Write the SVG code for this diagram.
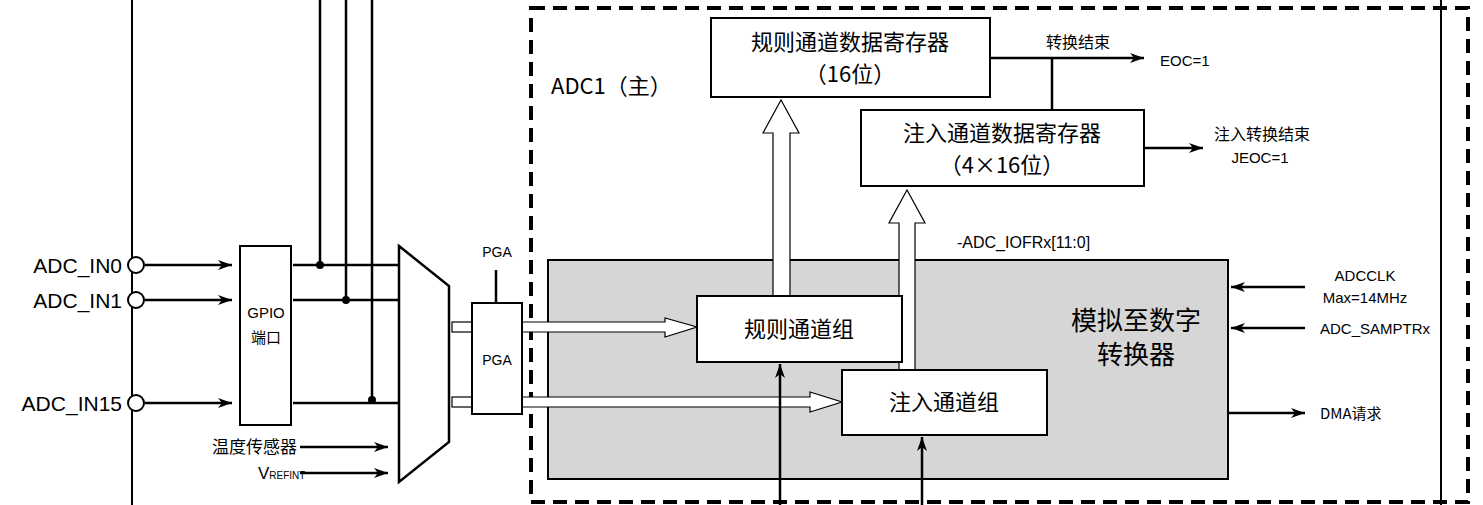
<svg xmlns="http://www.w3.org/2000/svg" width="1483" height="505" viewBox="0 0 1483 505">
<defs>
<marker id="a" markerWidth="10" markerHeight="8" refX="10" refY="4" orient="auto" markerUnits="userSpaceOnUse"><path d="M0,0 L10,4 L0,8 L3,4 Z" fill="#000"/></marker>
<marker id="b" markerWidth="14" markerHeight="10" refX="14" refY="5" orient="auto" markerUnits="userSpaceOnUse"><path d="M0,0 L14,5 L0,10 L4,5 Z" fill="#000"/></marker>
</defs>
<style>
text{font-family:"Liberation Sans","Noto Sans CJK SC",sans-serif;fill:#000}
.bx{fill:#fff;stroke:#000;stroke-width:2}
.ln{stroke:#000;stroke-width:2.5;fill:none}
.ha{fill:#fff;stroke:#000;stroke-width:1.2}
.cn{font-family:"Noto Sans CJK SC",sans-serif}
</style>
<rect x="531" y="8" width="937" height="494" fill="none" stroke="#000" stroke-width="4" stroke-dasharray="14,8"/>
<line x1="1441" y1="0" x2="1441" y2="505" stroke="#000" stroke-width="2"/>
<line x1="132" y1="0" x2="132" y2="505" stroke="#000" stroke-width="2"/>
<text x="551" y="94" font-size="22" class="cn">ADC1（主）</text>
<g id="gray"><rect x="548" y="260" width="680" height="219" fill="#d6d6d6" stroke="#000" stroke-width="2"/>
<text x="1136" y="330" font-size="26" text-anchor="middle" class="cn">模拟至数字</text>
<text x="1136" y="364" font-size="26" text-anchor="middle" class="cn">转换器</text></g>
<g id="conn">
<line class="ln" x1="145" y1="265" x2="232" y2="265" marker-end="url(#b)"/>
<line class="ln" x1="145" y1="300" x2="232" y2="300" marker-end="url(#b)"/>
<line class="ln" x1="145" y1="403" x2="232" y2="403" marker-end="url(#b)"/>
<line class="ln" x1="293" y1="265" x2="399" y2="265"/>
<line class="ln" x1="293" y1="300" x2="399" y2="300"/>
<line class="ln" x1="293" y1="403" x2="399" y2="403"/>
<line class="ln" x1="320" y1="0" x2="320" y2="265"/>
<line class="ln" x1="346" y1="0" x2="346" y2="300"/>
<line class="ln" x1="372" y1="0" x2="372" y2="403"/>
<circle cx="320" cy="265" r="4"/><circle cx="346" cy="300" r="4"/><circle cx="372" cy="400" r="4"/>
<line class="ln" x1="300" y1="447" x2="388" y2="447" marker-end="url(#b)"/>
<line class="ln" x1="300" y1="473" x2="388" y2="473" marker-end="url(#b)"/>
<line class="ln" x1="496" y1="270" x2="496" y2="303" stroke-width="2"/>
<rect x="452" y="322" width="20" height="10" class="ha"/><rect x="452" y="397" width="20" height="10" class="ha"/>
<path class="ha" d="M522,322 H665 V318 L697,327 L665,337 V332 H522 Z"/>
<path class="ha" d="M522,397 H810 V392 L842,402 L810,412 V407 H522 Z"/>
<path class="ha" d="M773,296 V133 H763 L781,100 L799,133 H790 V296 Z"/>
<path class="ha" d="M899,370 V223 H889 L907,190 L925,223 H915 V370 Z"/>
<line class="ln" x1="780" y1="505" x2="780" y2="364" marker-end="url(#b)"/>
<line class="ln" x1="922" y1="505" x2="922" y2="437" marker-end="url(#b)"/>
<line class="ln" x1="990" y1="58" x2="1144" y2="58" marker-end="url(#b)"/>
<line class="ln" x1="1052" y1="58" x2="1052" y2="110"/>
<line class="ln" x1="1144" y1="148" x2="1203" y2="148" marker-end="url(#b)"/>
<line class="ln" x1="1305" y1="287" x2="1231" y2="287" marker-end="url(#b)"/>
<line class="ln" x1="1305" y1="328" x2="1231" y2="328" marker-end="url(#b)"/>
<line class="ln" x1="1228" y1="413" x2="1305" y2="413" marker-end="url(#b)"/>
</g>
<g id="inputs">
<circle cx="136" cy="265" r="8" class="bx" stroke-width="1.5"/><circle cx="136" cy="300" r="8" class="bx" stroke-width="1.5"/><circle cx="136" cy="403" r="8" class="bx" stroke-width="1.5"/>
<text x="122" y="273" font-size="21" text-anchor="end">ADC_IN0</text>
<text x="122" y="308" font-size="21" text-anchor="end">ADC_IN1</text>
<text x="122" y="411" font-size="21" text-anchor="end">ADC_IN15</text>
<text x="297" y="453" font-size="17" text-anchor="end" class="cn">温度传感器</text>
<text x="258" y="479" font-size="17">V<tspan font-size="10">REFINT</tspan></text>
</g>
<g id="gpio"><rect x="240" y="246" width="51" height="179" class="bx"/>
<text x="266" y="318" font-size="15" text-anchor="middle">GPIO</text>
<text x="266" y="343" font-size="15" text-anchor="middle" class="cn">端口</text></g>
<g id="mux"><path d="M399,246 L449,286 L449,442 L399,482 Z" fill="#fff" stroke="#000" stroke-width="2.5"/></g>
<g id="pga"><rect x="472" y="303" width="50" height="111" class="bx"/>
<text x="497" y="365" font-size="14" text-anchor="middle">PGA</text>
<text x="497" y="257" font-size="14" text-anchor="middle">PGA</text></g>
<g id="reg"><rect x="697" y="296" width="205" height="66" class="bx"/><text x="799" y="337" font-size="22" text-anchor="middle" class="cn">规则通道组</text></g>
<g id="inj"><rect x="842" y="370" width="205" height="65" class="bx"/><text x="944" y="410" font-size="22" text-anchor="middle" class="cn">注入通道组</text></g>
<g id="rdr"><rect x="711" y="18" width="279" height="79" class="bx"/>
<text x="850" y="50" font-size="22" text-anchor="middle" class="cn">规则通道数据寄存器</text>
<text x="850" y="82" font-size="22" text-anchor="middle" class="cn">（16位）</text></g>
<g id="jdr"><rect x="861" y="110" width="283" height="76" class="bx"/>
<text x="1002" y="141" font-size="22" text-anchor="middle" class="cn">注入通道数据寄存器</text>
<text x="1002" y="173" font-size="22" text-anchor="middle" class="cn">（4×16位）</text></g>
<g id="labels">
<text x="1078" y="48" font-size="16" text-anchor="middle" class="cn">转换结束</text>
<text x="1160" y="66" font-size="15">EOC=1</text>
<text x="1262" y="140" font-size="16" text-anchor="middle" class="cn">注入转换结束</text>
<text x="1260" y="163" font-size="15" text-anchor="middle">JEOC=1</text>
<text x="957" y="248" font-size="16">-ADC_IOFRx[11:0]</text>
<text x="1365" y="281" font-size="15" text-anchor="middle">ADCCLK</text>
<text x="1365" y="303" font-size="15" text-anchor="middle">Max=14MHz</text>
<text x="1320" y="334" font-size="15">ADC_SAMPTRx</text>
<text x="1320" y="419" font-size="15" class="cn">DMA请求</text>
</g>
</svg>
